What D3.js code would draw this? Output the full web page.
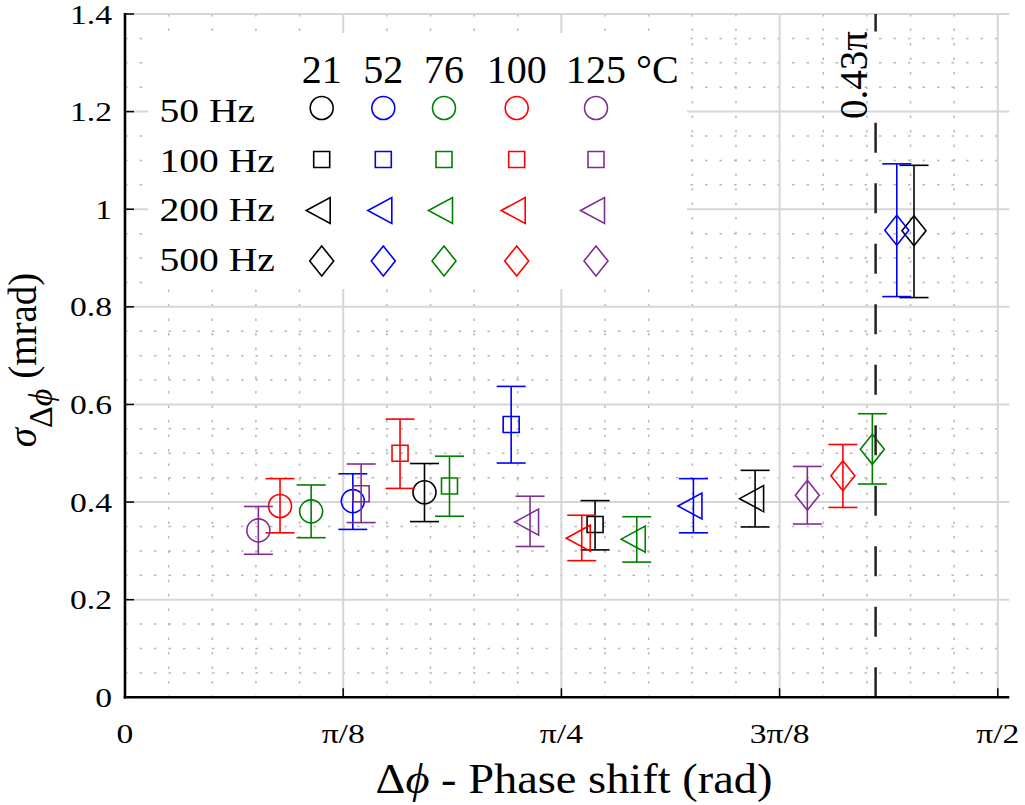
<!DOCTYPE html>
<html>
<head>
<meta charset="utf-8">
<script src="https://cdn.jsdelivr.net/npm/d3@7"></script>
<style>
	body { margin: 0; background: #fff; }
	svg text { font-family: 'Liberation Serif', 'Times New Roman', 'DejaVu Serif', serif; fill: #000; }
</style>
</head>
<body>
<svg id="chart" width="1025" height="805"></svg>
<script>
'use strict'

// temperatures (columns) and drive frequencies (rows)
const temps = ['21', '52', '76', '100', '125']
const tempColors = ['#000000', '#0000ff', '#008000', '#ff0000', '#7e2f8e']
const freqs = ['50 Hz', '100 Hz', '200 Hz', '500 Hz']
const freqMarkers = ['circle', 'square', 'triangle', 'diamond']

// phase shift (rad), one row per frequency, one value per temperature
const phase50 = [0.539, 0.410, 0.335, 0.279, 0.240]
const phase100 = [0.846, 0.695, 0.584, 0.495, 0.425]
const phase200 = [1.134, 1.023, 0.921, 0.822, 0.729]
const phase500 = [1.420, 1.389, 1.345, 1.292, 1.228]

// sigma (mrad)
const sigma50 = [0.420, 0.402, 0.381, 0.392, 0.342]
const sigma100 = [0.354, 0.559, 0.433, 0.500, 0.417]
const sigma200 = [0.407, 0.392, 0.324, 0.326, 0.359]
const sigma500 = [0.956, 0.957, 0.508, 0.454, 0.414]

// error bar lower / upper ends (mrad)
const low50 = [0.360, 0.344, 0.327, 0.337, 0.293]
const high50 = [0.479, 0.458, 0.435, 0.448, 0.391]
const low100 = [0.302, 0.480, 0.371, 0.428, 0.358]
const high100 = [0.403, 0.637, 0.494, 0.570, 0.478]
const low200 = [0.349, 0.337, 0.277, 0.280, 0.309]
const high200 = [0.465, 0.448, 0.370, 0.373, 0.412]
const low500 = [0.819, 0.821, 0.437, 0.389, 0.355]
const high500 = [1.090, 1.093, 0.581, 0.518, 0.473]

const xTickValues = [0, Math.PI / 8, Math.PI / 4, 3 * Math.PI / 8, Math.PI / 2]
const xTickLabels = ['0', 'π/8', 'π/4', '3π/8', 'π/2']
const yTickValues = [0, 0.2, 0.4, 0.6, 0.8, 1, 1.2, 1.4]
const markLine = 0.43 * Math.PI
const markLabel = '0.43π'

const phases = [phase50, phase100, phase200, phase500]
const sigmas = [sigma50, sigma100, sigma200, sigma500]
const lows = [low50, low100, low200, low500]
const highs = [high50, high100, high200, high500]

const points = []
freqs.forEach((f, fi) => {
	temps.forEach((t, ti) => {
		points.push({
			freq: fi,
			temp: ti,
			x: phases[fi][ti],
			y: sigmas[fi][ti],
			lo: lows[fi][ti],
			hi: highs[fi][ti]
		})
	})
})

const svg = d3.select('#chart')
const plotLeft = 125
const plotRight = 1009.3
const plotTop = 14
const plotBottom = 697.3
const stretch = 1.2

const x = d3.scaleLinear().domain([0, 1.5915]).range([plotLeft, plotRight])
const y = d3.scaleLinear().domain([0, 1.4]).range([plotBottom, plotTop])

function markerPath(kind) {
	if (kind === 'circle')
		return 'M -11.5 0 A 11.5 11.5 0 1 0 11.5 0 A 11.5 11.5 0 1 0 -11.5 0 Z'
	if (kind === 'square')
		return 'M -8 -8 L 8 -8 L 8 8 L -8 8 Z'
	if (kind === 'triangle')
		return 'M -15.5 0 L 8.5 -13 L 8.5 13 Z'
	return 'M 0 -15 L 12 0 L 0 15 L -12 0 Z'
}

// minor grid
const minorX = d3.range(0, 1.59, Math.PI / 40).filter((v, i) => i % 5 !== 0)
const minorY = d3.range(0, 1.4001, 0.05).filter((v, i) => i % 4 !== 0)
const grid = svg.append('g').attr('class', 'grid')
grid.selectAll('.minorX')
	.data(minorX)
	.enter()
	.append('line')
	.attr('x1', (d) => x(d))
	.attr('x2', (d) => x(d))
	.attr('y1', plotTop)
	.attr('y2', plotBottom)
	.attr('stroke', '#b8b8b8')
	.attr('stroke-width', 1.5)
	.attr('stroke-dasharray', '2.5,12')
grid.selectAll('.minorY')
	.data(minorY)
	.enter()
	.append('line')
	.attr('x1', plotLeft)
	.attr('x2', plotRight)
	.attr('y1', (d) => y(d))
	.attr('y2', (d) => y(d))
	.attr('stroke', '#b8b8b8')
	.attr('stroke-width', 1.5)
	.attr('stroke-dasharray', '2.5,12')

// major grid
grid.selectAll('.majorX')
	.data(xTickValues.slice(1))
	.enter()
	.append('line')
	.attr('x1', (d) => x(d))
	.attr('x2', (d) => x(d))
	.attr('y1', plotTop)
	.attr('y2', plotBottom)
	.attr('stroke', '#d6d6d6')
	.attr('stroke-width', 2)
grid.selectAll('.majorY')
	.data(yTickValues.slice(1))
	.enter()
	.append('line')
	.attr('x1', plotLeft)
	.attr('x2', plotRight)
	.attr('y1', (d) => y(d))
	.attr('y2', (d) => y(d))
	.attr('stroke', '#d6d6d6')
	.attr('stroke-width', 2)

// legend background
svg.append('rect')
	.attr('x', 148)
	.attr('y', 33)
	.attr('width', 539)
	.attr('height', 256)
	.attr('fill', '#fff')

// error bars
const bars = svg.append('g').attr('class', 'errorbars')
	.selectAll('g')
	.data(points)
	.enter()
	.append('g')
	.attr('stroke', (d) => tempColors[d.temp])
	.attr('stroke-width', 1.6)
	.attr('fill', 'none')
bars.append('line')
	.attr('x1', (d) => x(d.x))
	.attr('x2', (d) => x(d.x))
	.attr('y1', (d) => y(d.lo))
	.attr('y2', (d) => y(d.hi))
bars.append('line')
	.attr('x1', (d) => x(d.x) - 14.5)
	.attr('x2', (d) => x(d.x) + 14.5)
	.attr('y1', (d) => y(d.lo))
	.attr('y2', (d) => y(d.lo))
bars.append('line')
	.attr('x1', (d) => x(d.x) - 14.5)
	.attr('x2', (d) => x(d.x) + 14.5)
	.attr('y1', (d) => y(d.hi))
	.attr('y2', (d) => y(d.hi))
bars.append('path')
	.attr('d', (d) => markerPath(freqMarkers[d.freq]))
	.attr('transform', (d) => `translate(${x(d.x)}, ${y(d.y)})`)

// 0.43 pi marker line, broken where the label sits
const xm = x(markLine)
svg.append('line')
	.attr('x1', xm)
	.attr('x2', xm)
	.attr('y1', plotBottom)
	.attr('y2', 122.5)
	.attr('stroke', '#222')
	.attr('stroke-width', 2.5)
	.attr('stroke-dasharray', '30,30.5')
svg.append('line')
	.attr('x1', xm)
	.attr('x2', xm)
	.attr('y1', 31.5)
	.attr('y2', plotTop)
	.attr('stroke', '#222')
	.attr('stroke-width', 2.5)
svg.append('text')
	.attr('transform', `translate(${xm - 9}, 31) rotate(-90)`)
	.attr('text-anchor', 'end')
	.attr('font-size', 39)
	.text(markLabel)

// axes
const axes = svg.append('g').attr('class', 'axes')
axes.selectAll('.xtick')
	.data(xTickValues)
	.enter()
	.append('line')
	.attr('x1', (d) => x(d))
	.attr('x2', (d) => x(d))
	.attr('y1', plotBottom)
	.attr('y2', plotBottom - 9)
	.attr('stroke', '#000')
	.attr('stroke-width', 1.5)
axes.selectAll('.ytick')
	.data(yTickValues)
	.enter()
	.append('line')
	.attr('x1', plotLeft)
	.attr('x2', plotLeft + 9)
	.attr('y1', (d) => y(d))
	.attr('y2', (d) => y(d))
	.attr('stroke', '#000')
	.attr('stroke-width', 1.5)
axes.append('line')
	.attr('x1', plotLeft)
	.attr('x2', plotLeft)
	.attr('y1', plotTop - 1)
	.attr('y2', plotBottom + 1.3)
	.attr('stroke', '#000')
	.attr('stroke-width', 2.6)
axes.append('line')
	.attr('x1', plotLeft - 1.3)
	.attr('x2', plotRight)
	.attr('y1', plotBottom)
	.attr('y2', plotBottom)
	.attr('stroke', '#000')
	.attr('stroke-width', 2.6)

axes.selectAll('.xlabel')
	.data(xTickValues)
	.enter()
	.append('text')
	.attr('transform', (d) => `translate(${x(d)}, 743) scale(${stretch}, 1)`)
	.attr('text-anchor', 'middle')
	.attr('font-size', 28)
	.text((d, i) => xTickLabels[i])
axes.selectAll('.ylabel')
	.data(yTickValues)
	.enter()
	.append('text')
	.attr('transform', (d) => `translate(112, ${y(d) + 9.5}) scale(${stretch}, 1)`)
	.attr('text-anchor', 'end')
	.attr('font-size', 28)
	.text((d) => d3.format('')(+d.toFixed(1)))

// axis titles
const xTitle = svg.append('text')
	.attr('transform', `translate(574, 793) scale(1.08, 1)`)
	.attr('text-anchor', 'middle')
	.attr('font-size', 43)
xTitle.append('tspan').text('Δ')
xTitle.append('tspan').attr('font-style', 'italic').text('ϕ')
xTitle.append('tspan').text(' - Phase shift (rad)')

const yTitle = svg.append('text')
	.attr('transform', `translate(36, 360) rotate(-90)`)
	.attr('text-anchor', 'middle')
	.attr('font-size', 39)
yTitle.append('tspan').attr('font-style', 'italic').text('σ')
yTitle.append('tspan').attr('dy', 16).attr('font-size', 34).text('Δ')
yTitle.append('tspan').attr('font-size', 34).attr('font-style', 'italic').text('ϕ')
yTitle.append('tspan').attr('dy', -16).text('\u00a0(mrad)')

// legend table
const colX = [321.7, 383.3, 444, 516.7, 596]
const rowY = [108, 159.5, 210.5, 261]
const textY = [121.7, 171.7, 220.7, 270.7]
const legend = svg.append('g').attr('class', 'legend')
legend.selectAll('.head')
	.data(temps)
	.enter()
	.append('text')
	.attr('x', (d, i) => colX[i])
	.attr('y', 82.7)
	.attr('text-anchor', 'middle')
	.attr('font-size', 40)
	.text((d) => d)
legend.append('text')
	.attr('x', colX[4] + 30)
	.attr('y', 82.7)
	.attr('font-size', 40)
	.text('\u00a0°C')
legend.selectAll('.row')
	.data(freqs)
	.enter()
	.append('text')
	.attr('transform', (d, i) => `translate(159.5, ${textY[i]}) scale(${stretch}, 1)`)
	.attr('font-size', 33)
	.text((d) => d)
const cells = []
freqs.forEach((f, fi) => temps.forEach((t, ti) => cells.push({fi, ti})))
legend.selectAll('.cell')
	.data(cells)
	.enter()
	.append('path')
	.attr('d', (d) => markerPath(freqMarkers[d.fi]))
	.attr('transform', (d) => `translate(${colX[d.ti]}, ${rowY[d.fi]})`)
	.attr('fill', 'none')
	.attr('stroke', (d) => tempColors[d.ti])
	.attr('stroke-width', 1.6)
</script>
</body>
</html>
